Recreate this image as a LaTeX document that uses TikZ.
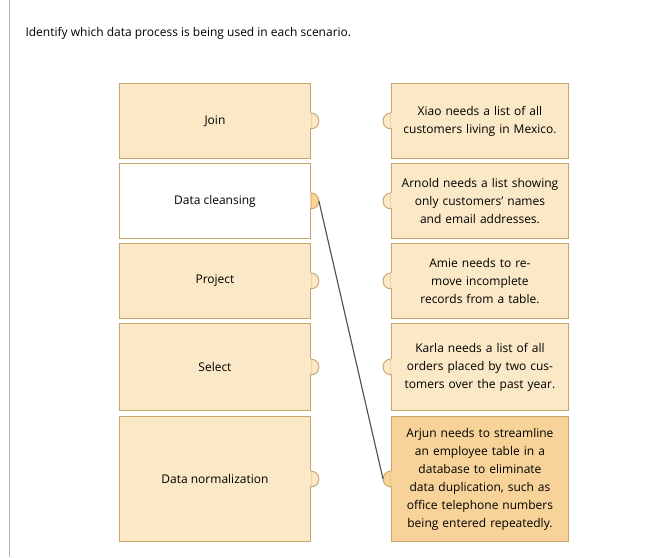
\documentclass[tikz,border=0pt]{standalone}
\usepackage{fontspec}
\setmainfont{Open Sans}
\definecolor{bfill}{HTML}{FBE8C6}
\definecolor{bdraw}{HTML}{C9A46C}
\definecolor{sel}{HTML}{F7D399}
\begin{document}
\begin{tikzpicture}[x=1pt,y=1pt,
  lbox/.style={draw=bdraw,fill=bfill,line width=0.9pt,minimum width=191pt,anchor=north west,inner sep=0pt,font=\fontsize{12}{17}\selectfont,align=center},
  rbox/.style={draw=bdraw,fill=bfill,line width=0.9pt,minimum width=177pt,anchor=north west,inner sep=0pt,font=\fontsize{12}{18}\selectfont,align=center,text width=170pt},
  tab/.style={draw=bdraw,fill=bfill,line width=0.9pt},
  link/.style={draw=black!70,line width=1.1pt}]
\useasboundingbox (0,0) rectangle (669,-557);
\fill[white] (0,0) rectangle (669,-557);
\draw[black!30,line width=1pt] (9,0) -- (9,-557);
\node[anchor=west,font=\fontsize{12}{14}\selectfont] (title) at (22,-33) {Identify which data process is being used in each scenario.};
% left
\node[lbox,minimum height=75pt] (l1) at (119,-83) {Join};
\node[lbox,minimum height=75pt,fill=white] (l2) at (119,-163) {Data cleansing};
\node[lbox,minimum height=75pt] (l3) at (119,-243) {Project};
\node[lbox,minimum height=87pt] (l4) at (119,-323) {Select};
\node[lbox,minimum height=125pt] (l5) at (119,-416) {Data normalization};
\foreach \n in {l1,l3,l4,l5}{\draw[tab] ([yshift=8]\n.east) arc(90:-90:8) -- cycle;
  \fill[bfill] ([yshift=7.5]\n.east) rectangle ([yshift=-7.5,xshift=-0.6]\n.east);}
\draw[tab,fill=sel] ([yshift=8]l2.east) arc(90:-90:8) -- cycle;
\fill[sel] ([yshift=7.5]l2.east) rectangle ([yshift=-7.5,xshift=-0.6]l2.east);
% right
\node[rbox,minimum height=75pt] (r1) at (391,-83) {Xiao needs a list of all customers living in Mexico.};
\node[rbox,minimum height=75pt] (r2) at (391,-163) {Arnold needs a list showing only customers' names and email addresses.};
\node[rbox,minimum height=75pt] (r3) at (391,-243) {Amie needs to remove incomplete records from a table.};
\node[rbox,minimum height=87pt] (r4) at (391,-323) {Karla needs a list of all orders placed by two customers over the past year.};
\node[rbox,minimum height=125pt,fill=sel] (r5) at (391,-416) {Arjun needs to streamline an employee table in a database to eliminate data duplication, such as office telephone numbers being entered repeatedly.};
\foreach \n in {r1,r2,r3,r4}{\draw[tab] ([yshift=8]\n.west) arc(90:270:8) -- cycle;
  \fill[bfill] ([yshift=7.5]\n.west) rectangle ([yshift=-7.5,xshift=0.6]\n.west);}
\draw[tab,fill=sel] ([yshift=8]r5.west) arc(90:270:8) -- cycle;
\fill[sel] ([yshift=7.5]r5.west) rectangle ([yshift=-7.5,xshift=0.6]r5.west);
\coordinate (a) at ([xshift=8]l2.east);
\coordinate (b) at ([xshift=-8]r5.west);
\draw[link] (a) -- (b);
\end{tikzpicture}
\end{document}
